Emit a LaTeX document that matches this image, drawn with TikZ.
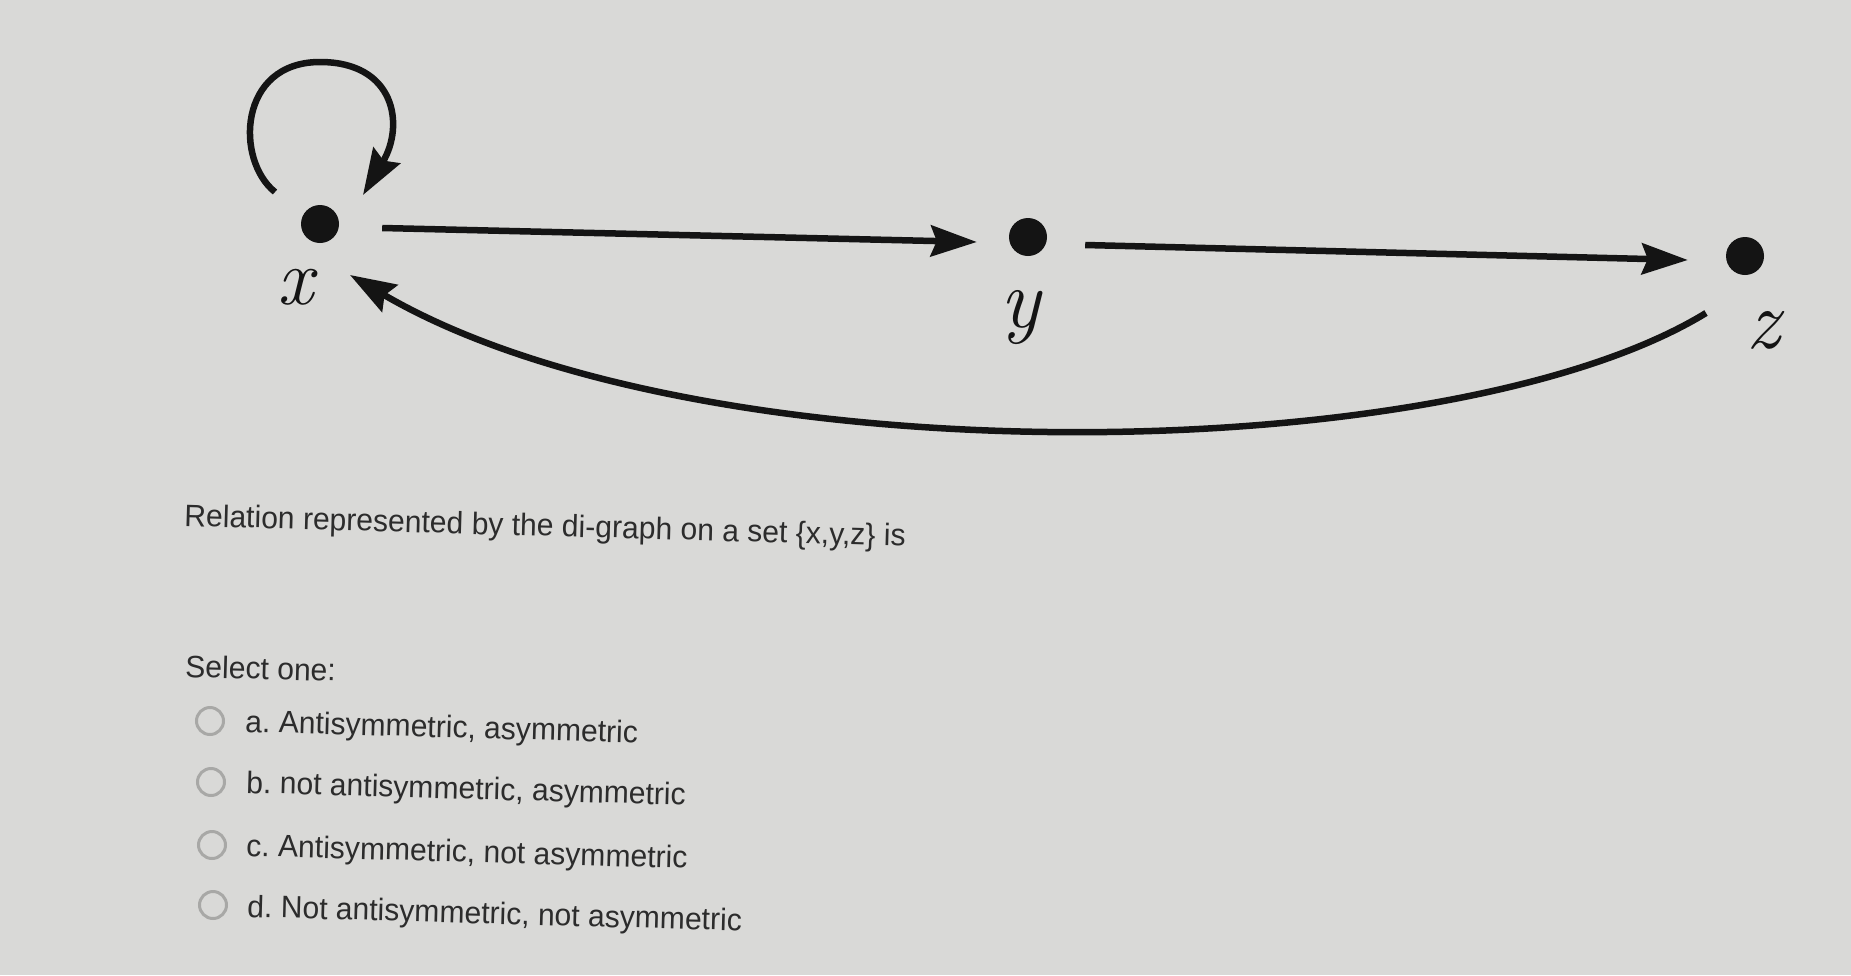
\documentclass[tikz,border=0pt]{standalone}
\usepackage{fontspec}
\setmainfont{Liberation Sans}
\newfontfamily\lmfont{Latin Modern Roman}
\usetikzlibrary{arrows.meta}
\frenchspacing
\definecolor{bg}{HTML}{D9D9D7}
\definecolor{ink}{HTML}{141414}
\definecolor{txt}{HTML}{2C2C2C}
\definecolor{radioc}{HTML}{A8A8A6}
\begin{document}
\begin{tikzpicture}[x=1pt,y=-1pt,
  dot/.style={circle,fill=ink,inner sep=0pt,minimum size=38pt},
  headtip/.style={-{Stealth[length=46pt,width=31pt,inset=6pt]}},
  edgeline/.style={draw=ink,line width=6.5pt,headtip},
  lbl/.style={text=ink,inner sep=0pt},
  qtext/.style={font=\fontsize{31}{36}\selectfont\frenchspacing,text=txt,anchor=base west,inner sep=0pt,rotate=-1.6,xscale=0.97},
  radio/.style={circle,draw=radioc,line width=3pt,minimum size=27pt,inner sep=0pt}]
\useasboundingbox (0,0) rectangle (1851,975);
\fill[bg] (0,0) rectangle (1851,975);

% vertices
\node[dot] (x) at (320,224) {};
\node[dot] (y) at (1028,237) {};
\node[dot] (z) at (1745,256) {};

% labels
\node[lbl] (lx) at (295,287) {\fontsize{80}{80}\selectfont\lmfont\itshape x};
\node[lbl] (ly) at (1020,318) {\fontsize{84}{84}\selectfont\lmfont\itshape y};
\node[lbl] (lz) at (1763,330) {\fontsize{84}{84}\selectfont\lmfont\itshape z};

% edges
\draw[edgeline] ([shift={(-45,-32)}]x.center) .. controls (235,160) and (238,62) .. (320,62)
  .. controls (395,62) and (405,125) .. ([shift={(43,-29)}]x.center);
\draw[edgeline] ([shift={(43,4)}]x.east) -- ([shift={(-32,5)}]y.west);
\draw[edgeline] ([shift={(38,8)}]y.east) -- ([shift={(-38,4)}]z.west);
\draw[edgeline] ([shift={(-39,57)}]z.center) .. controls (1450,470) and (700,480) .. ([shift={(30,51)}]x.center);

% question text
\node[qtext] (q) at (184,526) {Relation represented by the di-graph on a set \{x,y,z\} is};
\node[qtext] (sel) at (185,677) {Select one:};

\node[radio] (ra) at (210,721) {};
\node[qtext] (oa) at (245,732) {a. Antisymmetric, asymmetric};
\node[radio] (rb) at (211,782) {};
\node[qtext] (ob) at (246,793) {b. not antisymmetric, asymmetric};
\node[radio] (rc) at (212,845) {};
\node[qtext] (oc) at (246,856) {c. Antisymmetric, not asymmetric};
\node[radio] (rd) at (213,905) {};
\node[qtext] (od) at (247,917) {d. Not antisymmetric, not asymmetric};
\end{tikzpicture}
\end{document}
